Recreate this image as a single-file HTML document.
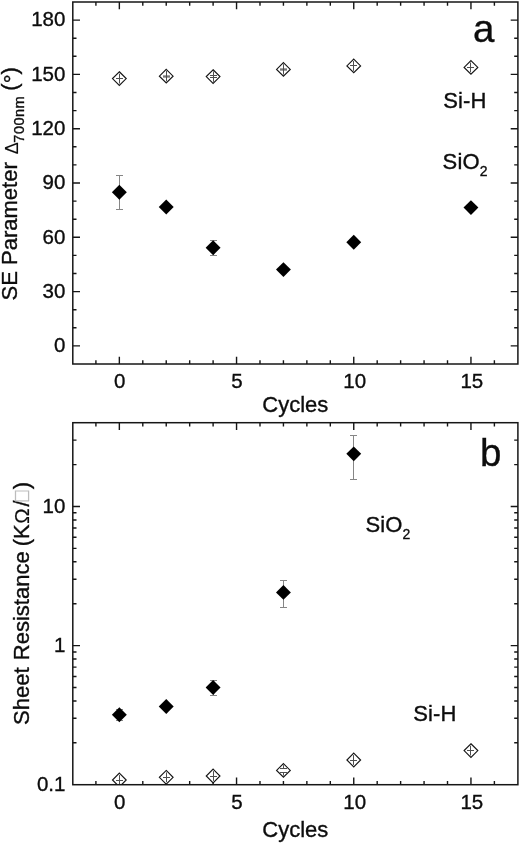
<!DOCTYPE html>
<html lang="en">
<head>
<meta charset="utf-8">
<title>SE parameter and sheet resistance vs cycles</title>
<style>
html,body{margin:0;padding:0;background:#fff;}
body{width:520px;height:844px;overflow:hidden;}
svg{display:block;}
text{font-family:"Liberation Sans",sans-serif;fill:#0d0d0d;stroke:#0d0d0d;stroke-width:0.35px;}
.tk{font-size:20.5px;}
.lb{font-size:22px;}
.sb{font-size:14px;}
.an{font-size:22px;letter-spacing:0.12px;}
.dl{font-size:18px;stroke-width:0.15px;}
.om{font-size:20.5px;stroke-width:0.2px;}
.sb2{font-size:14.6px;letter-spacing:0.45px;}
.big{font-size:38.5px;}
.bx{fill:#b9b9b9;stroke:#b9b9b9;}
</style>
</head>
<body>
<svg width="520" height="844" viewBox="0 0 520 844">
<rect width="520" height="844" fill="#fff"/>
<g id="plot-a">
<path d="M119.35 71.75L126.2 78.6L119.35 85.45L112.5 78.6Z" fill="#fff" stroke="#161616" stroke-width="1.15"/><path d="M119.5 73.7V83.5M116 78.5h7" fill="none" stroke="#4f4f4f" stroke-width="1"/>
<path d="M166.23 69.3L173.08 76.15L166.23 83L159.38 76.15Z" fill="#fff" stroke="#161616" stroke-width="1.15"/><path d="M166.5 70.95V81.35M163 76h7M163 77h7" fill="none" stroke="#4f4f4f" stroke-width="1"/>
<path d="M213.11 69.75L219.96 76.6L213.11 83.45L206.26 76.6Z" fill="#fff" stroke="#161616" stroke-width="1.15"/><path d="M213.5 71.4V81.8M210 75.5h7M210 77.5h7" fill="none" stroke="#4f4f4f" stroke-width="1"/>
<path d="M283.43 62.55L290.28 69.4L283.43 76.25L276.58 69.4Z" fill="#fff" stroke="#161616" stroke-width="1.15"/><path d="M283.5 64.2V74.6M280 69h7M280 70h7" fill="none" stroke="#4f4f4f" stroke-width="1"/>
<path d="M353.75 59.05L360.6 65.9L353.75 72.75L346.9 65.9Z" fill="#fff" stroke="#161616" stroke-width="1.15"/><path d="M353.5 61V70.8M350 65.5h7" fill="none" stroke="#4f4f4f" stroke-width="1"/>
<path d="M470.95 60.55L477.8 67.4L470.95 74.25L464.1 67.4Z" fill="#fff" stroke="#161616" stroke-width="1.15"/><path d="M470.5 62.5V72.3M467 67.5h7" fill="none" stroke="#4f4f4f" stroke-width="1"/>
<path d="M119.5 175.5V209.5M116 175.5h7M116 209.5h7" fill="none" stroke="#868686" stroke-width="1"/>
<path d="M119.35 184.85L126.8 192.3L119.35 199.75L111.9 192.3Z" fill="#000"/>
<path d="M166.23 199.55L173.68 207L166.23 214.45L158.78 207Z" fill="#000"/>
<path d="M213.5 240.5V255.5M210 240.5h7M210 255.5h7" fill="none" stroke="#868686" stroke-width="1"/>
<path d="M213.11 240.25L220.56 247.7L213.11 255.15L205.66 247.7Z" fill="#000"/>
<path d="M283.43 262.15L290.88 269.6L283.43 277.05L275.98 269.6Z" fill="#000"/>
<path d="M353.75 234.75L361.2 242.2L353.75 249.65L346.3 242.2Z" fill="#000"/>
<path d="M470.95 200.15L478.4 207.6L470.95 215.05L463.5 207.6Z" fill="#000"/>
<path d="M95.91 2v3.7M95.91 364v-3.7M119.35 2v7.2M119.35 364v-7.2M142.79 2v3.7M142.79 364v-3.7M166.23 2v3.7M166.23 364v-3.7M189.67 2v3.7M189.67 364v-3.7M213.11 2v3.7M213.11 364v-3.7M236.55 2v7.2M236.55 364v-7.2M259.99 2v3.7M259.99 364v-3.7M283.43 2v3.7M283.43 364v-3.7M306.87 2v3.7M306.87 364v-3.7M330.31 2v3.7M330.31 364v-3.7M353.75 2v7.2M353.75 364v-7.2M377.19 2v3.7M377.19 364v-3.7M400.63 2v3.7M400.63 364v-3.7M424.07 2v3.7M424.07 364v-3.7M447.51 2v3.7M447.51 364v-3.7M470.95 2v7.2M470.95 364v-7.2M494.39 2v3.7M494.39 364v-3.7M72.8 345.9h7.2M517.9 345.9h-7.2M72.8 291.6h7.2M517.9 291.6h-7.2M72.8 237.3h7.2M517.9 237.3h-7.2M72.8 183h7.2M517.9 183h-7.2M72.8 128.7h7.2M517.9 128.7h-7.2M72.8 74.4h7.2M517.9 74.4h-7.2M72.8 20.1h7.2M517.9 20.1h-7.2M72.8 327.8h3.7M517.9 327.8h-3.7M72.8 309.7h3.7M517.9 309.7h-3.7M72.8 273.5h3.7M517.9 273.5h-3.7M72.8 255.4h3.7M517.9 255.4h-3.7M72.8 219.2h3.7M517.9 219.2h-3.7M72.8 201.1h3.7M517.9 201.1h-3.7M72.8 164.9h3.7M517.9 164.9h-3.7M72.8 146.8h3.7M517.9 146.8h-3.7M72.8 110.6h3.7M517.9 110.6h-3.7M72.8 92.5h3.7M517.9 92.5h-3.7M72.8 56.3h3.7M517.9 56.3h-3.7M72.8 38.2h3.7M517.9 38.2h-3.7" fill="none" stroke="#161616" stroke-width="1.4"/>
<rect x="72.8" y="2" width="445.1" height="362" fill="none" stroke="#161616" stroke-width="1.5"/>
<text class="tk" x="65.4" y="352.2" text-anchor="end">0</text>
<text class="tk" x="65.4" y="297.9" text-anchor="end">30</text>
<text class="tk" x="65.4" y="243.6" text-anchor="end">60</text>
<text class="tk" x="65.4" y="189.3" text-anchor="end">90</text>
<text class="tk" x="65.4" y="135" text-anchor="end">120</text>
<text class="tk" x="65.4" y="80.7" text-anchor="end">150</text>
<text class="tk" x="65.4" y="26.4" text-anchor="end">180</text>
<text class="tk" x="119.65" y="388" text-anchor="middle">0</text>
<text class="tk" x="236.85" y="388" text-anchor="middle">5</text>
<text class="tk" x="354.65" y="388" text-anchor="middle">10</text>
<text class="tk" x="471.85" y="388" text-anchor="middle">15</text>
<text class="lb" x="295.3" y="411.6" text-anchor="middle">Cycles</text>
<text class="lb" transform="translate(17.4 300.4) rotate(-90)">SE Parameter <tspan class="dl" dx="1.9" dy="0.1">Δ</tspan><tspan class="sb2" dx="-0.45" dy="6.4">700nm</tspan><tspan dx="-1" dy="-6.8"> (</tspan><tspan dy="3.2">°</tspan><tspan dy="-3.2">)</tspan></text>
<text class="big" x="473" y="41.6">a</text>
<text class="an" x="443.2" y="108">Si-H</text>
<text class="an" x="442.6" y="169.4">SiO<tspan class="sb" dy="7">2</tspan></text>
</g>
<g id="plot-b">
<clipPath id="cb"><rect x="72.8" y="422.7" width="445.1" height="362"/></clipPath>
<path d="M95.91 422.7v3.7M95.91 784.7v-3.7M119.35 422.7v7.2M119.35 784.7v-7.2M142.79 422.7v3.7M142.79 784.7v-3.7M166.23 422.7v3.7M166.23 784.7v-3.7M189.67 422.7v3.7M189.67 784.7v-3.7M213.11 422.7v3.7M213.11 784.7v-3.7M236.55 422.7v7.2M236.55 784.7v-7.2M259.99 422.7v3.7M259.99 784.7v-3.7M283.43 422.7v3.7M283.43 784.7v-3.7M306.87 422.7v3.7M306.87 784.7v-3.7M330.31 422.7v3.7M330.31 784.7v-3.7M353.75 422.7v7.2M353.75 784.7v-7.2M377.19 422.7v3.7M377.19 784.7v-3.7M400.63 422.7v3.7M400.63 784.7v-3.7M424.07 422.7v3.7M424.07 784.7v-3.7M447.51 422.7v3.7M447.51 784.7v-3.7M470.95 422.7v7.2M470.95 784.7v-7.2M494.39 422.7v3.7M494.39 784.7v-3.7M72.8 645.58h7.2M517.9 645.58h-7.2M72.8 506.46h7.2M517.9 506.46h-7.2M72.8 742.82h3.7M517.9 742.82h-3.7M72.8 718.32h3.7M517.9 718.32h-3.7M72.8 700.94h3.7M517.9 700.94h-3.7M72.8 687.46h3.7M517.9 687.46h-3.7M72.8 676.44h3.7M517.9 676.44h-3.7M72.8 667.13h3.7M517.9 667.13h-3.7M72.8 659.06h3.7M517.9 659.06h-3.7M72.8 651.95h3.7M517.9 651.95h-3.7M72.8 603.7h3.7M517.9 603.7h-3.7M72.8 579.2h3.7M517.9 579.2h-3.7M72.8 561.82h3.7M517.9 561.82h-3.7M72.8 548.34h3.7M517.9 548.34h-3.7M72.8 537.32h3.7M517.9 537.32h-3.7M72.8 528.01h3.7M517.9 528.01h-3.7M72.8 519.94h3.7M517.9 519.94h-3.7M72.8 512.82h3.7M517.9 512.82h-3.7M72.8 464.58h3.7M517.9 464.58h-3.7M72.8 440.08h3.7M517.9 440.08h-3.7" fill="none" stroke="#161616" stroke-width="1.4"/>
<g clip-path="url(#cb)">
<path d="M119.35 773.15L126.2 780L119.35 786.85L112.5 780Z" fill="#fff" stroke="#161616" stroke-width="1.15"/><path d="M119.5 775.1V784.9M116 780.5h7" fill="none" stroke="#4f4f4f" stroke-width="1"/>
<path d="M166.23 770.45L173.08 777.3L166.23 784.15L159.38 777.3Z" fill="#fff" stroke="#161616" stroke-width="1.15"/><path d="M166.5 772.4V782.2M163 777.5h7" fill="none" stroke="#4f4f4f" stroke-width="1"/>
<path d="M213.11 769.15L219.96 776L213.11 782.85L206.26 776Z" fill="#fff" stroke="#161616" stroke-width="1.15"/><path d="M213.5 771.1V780.9M210 776.5h7" fill="none" stroke="#4f4f4f" stroke-width="1"/>
<path d="M283.43 763.55L290.28 770.4L283.43 777.25L276.58 770.4Z" fill="#fff" stroke="#161616" stroke-width="1.15"/><path d="M283.5 765.2V768.5M283.5 772.5V775.6M280 768.5h7M280 772.5h7" fill="none" stroke="#4f4f4f" stroke-width="1"/>
<path d="M353.75 753.15L360.6 760L353.75 766.85L346.9 760Z" fill="#fff" stroke="#161616" stroke-width="1.15"/><path d="M353.5 755.1V764.9M350 760.5h7" fill="none" stroke="#4f4f4f" stroke-width="1"/>
<path d="M470.95 743.75L477.8 750.6L470.95 757.45L464.1 750.6Z" fill="#fff" stroke="#161616" stroke-width="1.15"/><path d="M470.5 745.7V755.5M467 750.5h7" fill="none" stroke="#4f4f4f" stroke-width="1"/>
</g>
<path d="M119.5 709.5V720.5M116 709.5h7M116 720.5h7" fill="none" stroke="#868686" stroke-width="1"/>
<path d="M119.35 707.25L126.8 714.7L119.35 722.15L111.9 714.7Z" fill="#000"/>
<path d="M166.23 699.05L173.68 706.5L166.23 713.95L158.78 706.5Z" fill="#000"/>
<path d="M213.5 680.5V695.5M210 680.5h7M210 695.5h7" fill="none" stroke="#868686" stroke-width="1"/>
<path d="M213.11 680.05L220.56 687.5L213.11 694.95L205.66 687.5Z" fill="#000"/>
<path d="M283.5 580.5V607.5M280 580.5h7M280 607.5h7" fill="none" stroke="#868686" stroke-width="1"/>
<path d="M283.43 584.95L290.88 592.4L283.43 599.85L275.98 592.4Z" fill="#000"/>
<path d="M353.5 435.5V479.5M350 435.5h7M350 479.5h7" fill="none" stroke="#868686" stroke-width="1"/>
<path d="M353.75 446.4L361.2 453.85L353.75 461.3L346.3 453.85Z" fill="#000"/>
<rect x="72.8" y="422.7" width="445.1" height="362" fill="none" stroke="#161616" stroke-width="1.5"/>
<text class="tk" x="65.4" y="791" text-anchor="end">0.1</text>
<text class="tk" x="65.4" y="651.88" text-anchor="end">1</text>
<text class="tk" x="65.4" y="512.76" text-anchor="end">10</text>
<text class="tk" x="119.65" y="808.5" text-anchor="middle">0</text>
<text class="tk" x="236.85" y="808.5" text-anchor="middle">5</text>
<text class="tk" x="354.65" y="808.5" text-anchor="middle">10</text>
<text class="tk" x="471.85" y="808.5" text-anchor="middle">15</text>
<text class="lb" x="295.3" y="837.4" text-anchor="middle">Cycles</text>
<text class="lb" transform="translate(28.6 725) rotate(-90)">Sheet<tspan dx="1.2"> Resistance</tspan><tspan dx="-1"> (K</tspan><tspan class="om" dx="0.5">Ω</tspan><tspan dx="1.9">/</tspan></text>
<text class="lb bx" transform="translate(28.6 501.3) rotate(-90) scale(0.8 1.06)">□</text>
<text class="lb" transform="translate(28.6 489.2) rotate(-90)">)</text>
<text class="big" x="480.1" y="466">b</text>
<text class="an" x="365.4" y="532">SiO<tspan class="sb" dy="7">2</tspan></text>
<text class="an" x="413.3" y="721.2">Si-H</text>
</g>
</svg>
</body>
</html>
